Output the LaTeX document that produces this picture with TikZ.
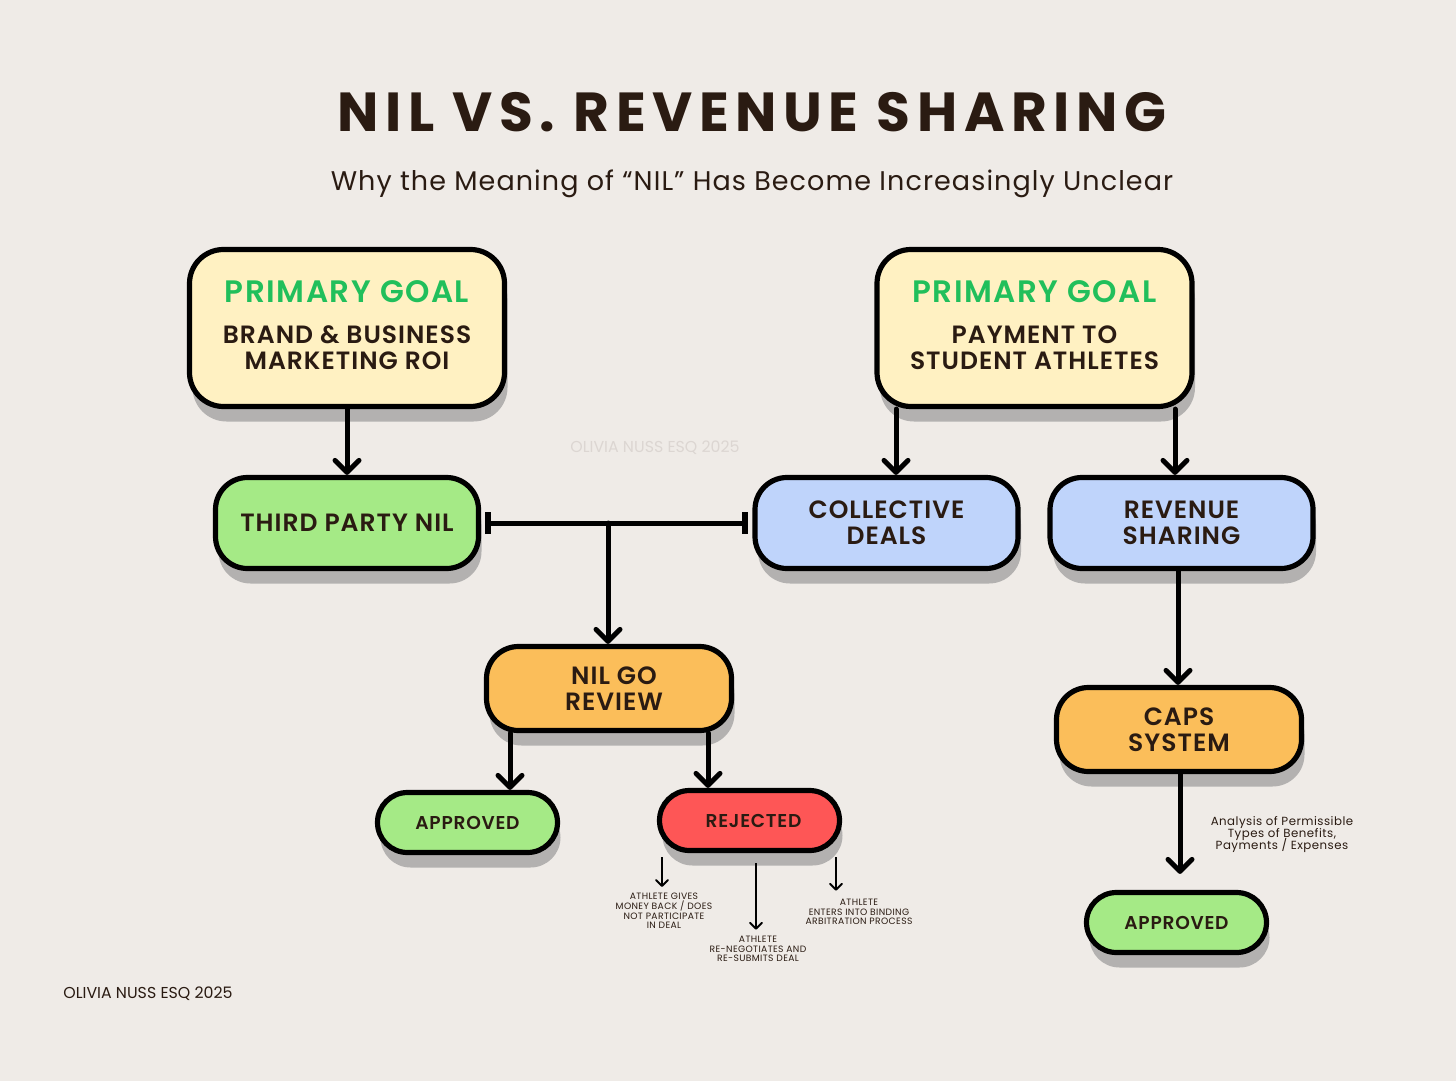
\documentclass[tikz,border=0pt]{standalone}
\usepackage{fontspec}
\setmainfont{Poppins}
\newfontfamily\titlefont[LetterSpace=12]{Poppins}
\newfontfamily\boxfont[LetterSpace=4, BoldFont={Poppins SemiBold}]{Poppins}
\newfontfamily\goalfont[LetterSpace=5, BoldFont={Poppins SemiBold}]{Poppins}
\newfontfamily\subfont[LetterSpace=4]{Poppins}
\usetikzlibrary{arrows.meta,shadows}
\definecolor{bg}{HTML}{EFEBE7}
\definecolor{ink}{HTML}{2A1B12}
\definecolor{pgreen}{HTML}{21BF5B}
\definecolor{cyellow}{HTML}{FFF1C2}
\definecolor{cgreen}{HTML}{A5EA86}
\definecolor{cblue}{HTML}{BFD4FB}
\definecolor{corange}{HTML}{FBBE5A}
\definecolor{cred}{HTML}{FE5656}
\definecolor{shade}{HTML}{B3B1B0}
\definecolor{wm}{HTML}{DCD6D2}
\newcommand{\tightlines}{\lineskiplimit=-10pt\relax}
\tikzset{
  card/.style={draw=black, line width=2.6pt, text=ink, align=center,
    inner sep=0pt, font=\boxfont\bfseries\fontsize{12.5}{13}\selectfont,
    drop shadow={fill=shade, opacity=1, shadow xshift=1.5pt, shadow yshift=-7.5pt}},
  bigcard/.style={card, rounded corners=17pt, minimum width=157.5pt, minimum height=78.5pt, fill=cyellow},
  midcard/.style={card, rounded corners=16pt, minimum width=131.5pt, minimum height=45.5pt},
  ocard/.style={card, rounded corners=16pt, minimum width=122.5pt, minimum height=42pt, fill=corange},
  smallcard/.style={card, rounded corners=15pt, minimum width=90pt, minimum height=30pt,
    font=\boxfont\bfseries\fontsize{9.3}{10}\selectfont},
  arr/.style={line width=2.5pt, line cap=round, -{Straight Barb[length=6pt,width=12pt,line cap=round,line join=round]}},
  thinarr/.style={line width=1pt, -{Straight Barb[length=3pt,width=6pt,line cap=round,line join=round]}},
  note/.style={align=center, text=ink, inner sep=0pt, font=\boxfont\fontsize{4.6}{4.8}\selectfont},
}
\begin{document}
\begin{tikzpicture}[x=0.5pt,y=-0.5pt]
\fill[bg] (0,0) rectangle (1456,1081);
\useasboundingbox (0,0) rectangle (1456,1081);

\node[text=ink, font=\titlefont\bfseries\fontsize{27.5}{30}\selectfont] (title) at (752,112) {NIL VS. REVENUE SHARING};
\node[text=ink, font=\subfont\fontsize{13.5}{15}\selectfont] (subtitle) at (752,184) {Why the Meaning of “NIL” Has Become Increasingly Unclear};

\node[bigcard] (goal1) at (347,328) {{\goalfont\bfseries\fontsize{15.5}{17}\selectfont\color{pgreen}PRIMARY GOAL}\\[7.5pt]BRAND \& BUSINESS\\MARKETING ROI\rule[-2.5pt]{0pt}{2.5pt}};
\node[bigcard] (goal2) at (1034.5,328) {{\goalfont\bfseries\fontsize{15.5}{17}\selectfont\color{pgreen}PRIMARY GOAL}\\[7.5pt]PAYMENT TO\\STUDENT ATHLETES\rule[-2.5pt]{0pt}{2.5pt}};

\node[midcard, fill=cgreen] (tpn) at (347,523) {THIRD PARTY NIL};
\node[midcard, fill=cblue] (coll) at (886.5,523) {COLLECTIVE\\DEALS};
\node[midcard, fill=cblue] (rev) at (1181.5,523) {REVENUE\\SHARING};

\node[ocard] (nilgo) at (609,688.5) {\hspace*{5pt}NIL GO\\\hspace*{5pt}REVIEW};
\node[ocard] (caps) at (1179,729.5) {CAPS\\SYSTEM};

\node[smallcard, fill=cgreen] (appr1) at (467.5,822.5) {APPROVED};
\node[smallcard, fill=cred] (rej) at (749.5,820.5) {\hspace*{4pt}REJECTED};
\node[smallcard, fill=cgreen] (appr2) at (1176.5,922.5) {APPROVED};

\node[text=wm, inner sep=0pt, font=\fontsize{7.9}{8}\selectfont] (wmark) at (655,448) {OLIVIA NUSS ESQ 2025};
\node[text=ink, anchor=west, inner sep=0pt, font=\fontsize{7.9}{8}\selectfont] (footer) at (63,994) {OLIVIA NUSS ESQ 2025};

% connectors
\draw[arr] (goal1) -- (tpn);
\draw[arr] (goal2.south -| 896,0) -- (coll.north -| 896,0);
\draw[arr] (goal2.south -| 1175,0) -- (rev.north -| 1175,0);
\draw[line width=2.5pt, {Bar[width=11pt,line width=3pt]}-{Bar[width=11pt,line width=3pt]}] ([xshift=2pt]tpn.east) -- ([xshift=-2pt]coll.west);
\coordinate (split) at (608,523);
\draw[arr] (split) -- (nilgo.north -| split);
\draw[arr] (nilgo.south -| 510,0) -- (appr1.north -| 510,0);
\draw[arr] (nilgo.south -| 708,0) -- (rej.north -| 708,0);
\draw[arr] (rev.south -| 1178,0) -- (caps.north -| 1178,0);
\draw[arr] (caps.south -| 1180,0) -- ([yshift=8pt]appr2.north -| 1180,0);

% rejected outcomes
\node[note] (out1) at (664,911) {ATHLETE GIVES\\MONEY BACK / DOES\\NOT PARTICIPATE\\IN DEAL};
\node[note] (out2) at (758,949) {ATHLETE\\RE-NEGOTIATES AND\\RE-SUBMITS DEAL};
\node[note] (out3) at (859,912) {ATHLETE\\ENTERS INTO BINDING\\ARBITRATION PROCESS};
\draw[thinarr] ([yshift=-2pt]rej.south -| 662,0) -- ([yshift=3pt]out1.north -| 662,0);
\draw[thinarr] ([yshift=-5pt]rej.south -| 756,0) -- ([yshift=3pt]out2.north -| 756,0);
\draw[thinarr] ([yshift=-2pt]rej.south -| 836,0) -- ([yshift=4pt]out3.north -| 836,0);

\node[align=center, text=ink, inner sep=0pt, font=\subfont\fontsize{5.9}{6}\selectfont\tightlines] (analysis) at (1282,835) {Analysis of Permissible\\Types of Benefits,\\Payments / Expenses};
\end{tikzpicture}
\end{document}
